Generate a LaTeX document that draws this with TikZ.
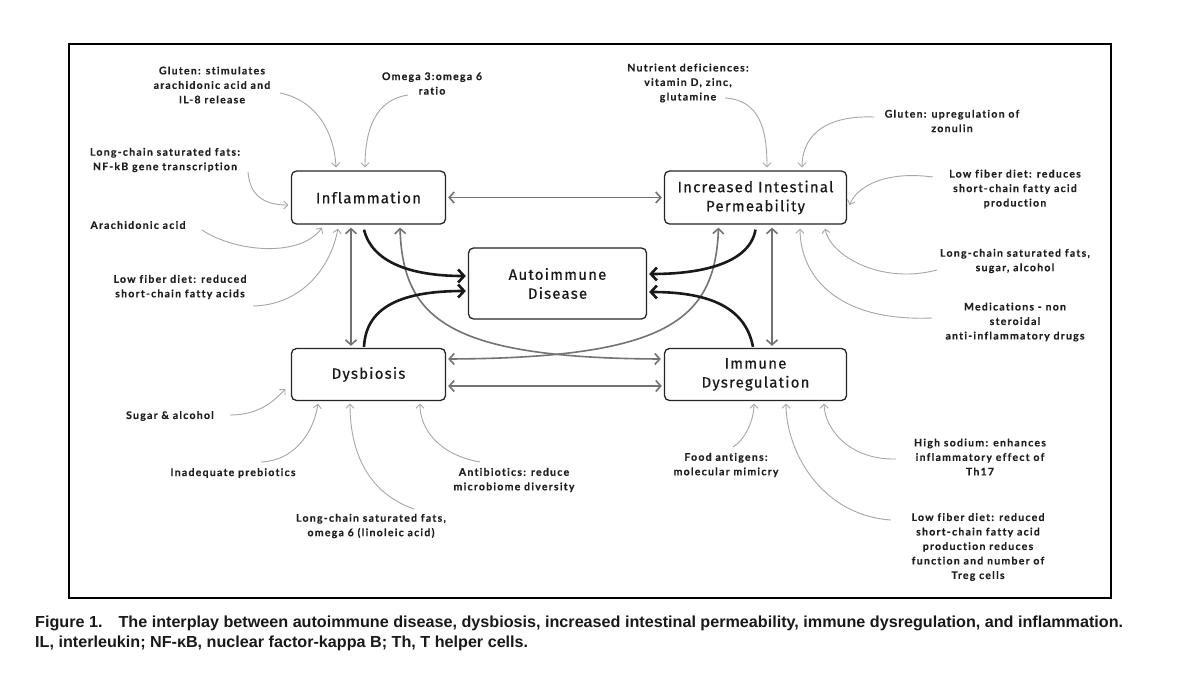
\documentclass[tikz,border=0pt]{standalone}
\usepackage{fontspec}
\setmainfont{Liberation Sans}
\newfontfamily\lblfont[LetterSpace=12,Ligatures=NoCommon,FakeBold=0.3]{Lato}
\newfontfamily\boxfont[LetterSpace=8,FakeBold=0.5,Ligatures=NoCommon]{Fira Sans}
\newfontfamily\capfont[FakeStretch=1.01]{Liberation Sans}
\usetikzlibrary{arrows.meta,calc}
\tikzset{
  box/.style={draw=black!85, line width=1.3pt, rounded corners=5pt, fill=white, align=center,
    font=\boxfont\fontsize{15}{19}\selectfont, inner sep=0pt, text=black!90},
  lbl/.style={align=center, font=\lblfont\bfseries\fontsize{10.5}{14.5}\selectfont, text=black!88, inner sep=1pt},
  feed/.style={draw=black!35, line width=0.9pt, -{Straight Barb[length=4pt,width=8pt]}},
  link/.style={draw=black!55, line width=1.6pt, {Straight Barb[length=5pt,width=11pt]}-{Straight Barb[length=5pt,width=11pt]}},
  major/.style={draw=black!90, line width=2.6pt, -{Straight Barb[length=6pt,width=13pt]}},
  captext/.style={anchor=base west, inner sep=0pt, font=\capfont\bfseries\fontsize{16}{20}\selectfont, text=black!90},
}
\begin{document}
\begin{tikzpicture}[x=1pt,y=-1pt]
\useasboundingbox (0,0) rectangle (1200,675);
\fill[white] (0,0) rectangle (1200,675);
\draw[line width=1.8pt, black] (69,44) rectangle (1111,598);

% main boxes
\node[box, minimum width=154pt, minimum height=53pt] (infl) at (368.5,197.5) {Inflammation};
\node[box, minimum width=182pt, minimum height=53pt] (iip) at (755.5,197.5) {Increased Intestinal\\Permeability};
\node[box, minimum width=178pt, minimum height=71pt] (auto) at (557.5,283.5) {Autoimmune\\Disease};
\node[box, minimum width=154pt, minimum height=52pt] (dys) at (368.5,374.5) {Dysbiosis};
\node[box, minimum width=182pt, minimum height=52pt] (imm) at (755.5,374.5) {Immune\\Dysregulation};

% labels
\node[lbl] (l1) at (212,85) {Gluten: stimulates\\arachidonic acid and\\IL-8 release};
\node[lbl] (l2) at (432,83.5) {Omega 3:omega 6\\ratio};
\node[lbl] (l3) at (165,160) {Long-chain saturated fats:\\NF-kB gene transcription};
\node[lbl] (l4) at (138,225) {Arachidonic acid};
\node[lbl] (l5) at (180,287) {Low fiber diet: reduced\\short-chain fatty acids};
\node[lbl] (l6) at (688,83) {Nutrient deficiences:\\vitamin D, zinc,\\glutamine};
\node[lbl] (l7) at (952,121) {Gluten: upregulation of\\zonulin};
\node[lbl] (l8) at (1015,189) {Low fiber diet: reduces\\short-chain fatty acid\\production};
\node[lbl] (l9) at (1015,261) {Long-chain saturated fats,\\sugar, alcohol};
\node[lbl] (l10) at (1015,322) {Medications - non\\steroidal\\anti-inflammatory drugs};
\node[lbl] (l11) at (170,416) {Sugar \& alcohol};
\node[lbl] (l12) at (233,473) {Inadequate prebiotics};
\node[lbl] (l13) at (371,526) {Long-chain saturated fats,\\omega 6 (linoleic acid)};
\node[lbl] (l14) at (514,480) {Antibiotics: reduce\\microbiome diversity};
\node[lbl] (l15) at (726,465) {Food antigens:\\molecular mimicry};
\node[lbl] (l16) at (980,457) {High sodium: enhances\\inflammatory effect of\\Th17};
\node[lbl] (l17) at (978,547) {Low fiber diet: reduced\\short-chain fatty acid\\production reduces\\function and number of\\Treg cells};

% feed arrow start points
\coordinate (s1) at (280,93);
\coordinate (s2) at (408,95);
\coordinate (s3) at (248,172);
\coordinate (s4) at (202,230);
\coordinate (s5) at (253,306);
\coordinate (s6) at (725,98);
\coordinate (s7) at (874,117);
\coordinate (s8) at (933,177);
\coordinate (s9) at (937,270);
\coordinate (s10) at (932,318);
\coordinate (s11) at (230,415);
\coordinate (s12) at (261,462);
\coordinate (s13) at (414,509);
\coordinate (s14) at (480,462);
\coordinate (s15) at (733,447);
\coordinate (s16) at (896,459);
\coordinate (s17) at (891,520);

% feed arrows
\draw[feed] (s1) .. controls (315,100) and (334,130) .. ($(infl.north)+(-32.5,-3)$);
\draw[feed] (s2) .. controls (375,100) and (365,130) .. ($(infl.north)+(-3.5,-3)$);
\draw[feed] (s3) .. controls (250,200) and (270,205) .. ($(infl.west)+(-2.5,7.5)$);
\draw[feed] (s4) .. controls (235,252) and (300,258) .. ($(infl.south)+(-46.5,3)$);
\draw[feed] (s5) .. controls (300,305) and (330,270) .. ($(infl.south)+(-30.5,4)$);
\draw[feed] (s6) .. controls (760,100) and (767,130) .. ($(iip.north)+(11.5,-3)$);
\draw[feed] (s7) .. controls (820,115) and (802,140) .. ($(iip.north)+(46.5,-3)$);
\draw[feed] (s8) .. controls (880,170) and (855,190) .. ($(iip.east)+(2.5,7.5)$);
\draw[feed] (s9) .. controls (880,285) and (830,255) .. ($(iip.south)+(69.5,4)$);
\draw[feed] (s10) .. controls (830,322) and (800,270) .. ($(iip.south)+(44.5,4)$);
\draw[feed] (s11) .. controls (260,415) and (275,400) .. ($(dys.west)+(-5.5,14.5)$);
\draw[feed] (s12) .. controls (300,460) and (315,425) .. ($(dys.south)+(-50.5,2.5)$);
\draw[feed] (s13) .. controls (360,490) and (350,440) .. ($(dys.south)+(-18.5,2.5)$);
\draw[feed] (s14) .. controls (440,455) and (420,430) .. ($(dys.south)+(51.5,2.5)$);
\draw[feed] (s15) .. controls (745,440) and (754,420) .. ($(imm.south)+(-1.5,2.5)$);
\draw[feed] (s16) .. controls (850,460) and (825,430) .. ($(imm.south)+(68.5,2.5)$);
\draw[feed] (s17) .. controls (820,515) and (786,450) .. ($(imm.south)+(30.5,2.5)$);

% links between boxes
\draw[link, shorten <=2pt, shorten >=2pt] (infl.east) -- (iip.west);
\draw[link] ($(infl.south)+(-17.5,3)$) -- ($(dys.north)+(-17.5,-2)$);
\draw[link] ($(iip.south)+(16.5,3)$) -- ($(imm.north)+(16.5,-2)$);
\draw[link] ($(dys.east)+(2,11.5)$) -- ($(imm.west)+(-2,11.5)$);
\draw[link] ($(infl.south)+(31.5,3)$) .. controls (403,320) and (450,358) .. ($(imm.west)+(-3,-15.5)$);
\draw[link] ($(dys.east)+(2,-15.5)$) .. controls (668,358) and (715,320) .. ($(iip.south)+(-37,3)$);

% major arrows to autoimmune disease
\draw[major] ($(infl.south)+(-4.5,5)$) .. controls (372,262) and (410,276) .. ($(auto.west)+(-2,-7.5)$);
\draw[major] ($(dys.north)+(-4.5,-1)$) .. controls (366,305) and (405,291) .. ($(auto.west)+(-2,7.5)$);
\draw[major] ($(iip.south)+(0,5)$) .. controls (750,262) and (705,274) .. ($(auto.east)+(2,-9.5)$);
\draw[major] ($(imm.north)+(-2.5,-1)$) .. controls (745,305) and (705,292) .. ($(auto.east)+(2,8.5)$);

% caption
\node[captext] (cap1) at (35,627) {Figure 1.\hspace{1em}The interplay between autoimmune disease, dysbiosis, increased intestinal permeability, immune dysregulation, and inflammation.};
\node[captext] (cap2) at (35,647) {IL, interleukin; NF-κB, nuclear factor-kappa B; Th, T helper cells.};
\end{tikzpicture}
\end{document}
